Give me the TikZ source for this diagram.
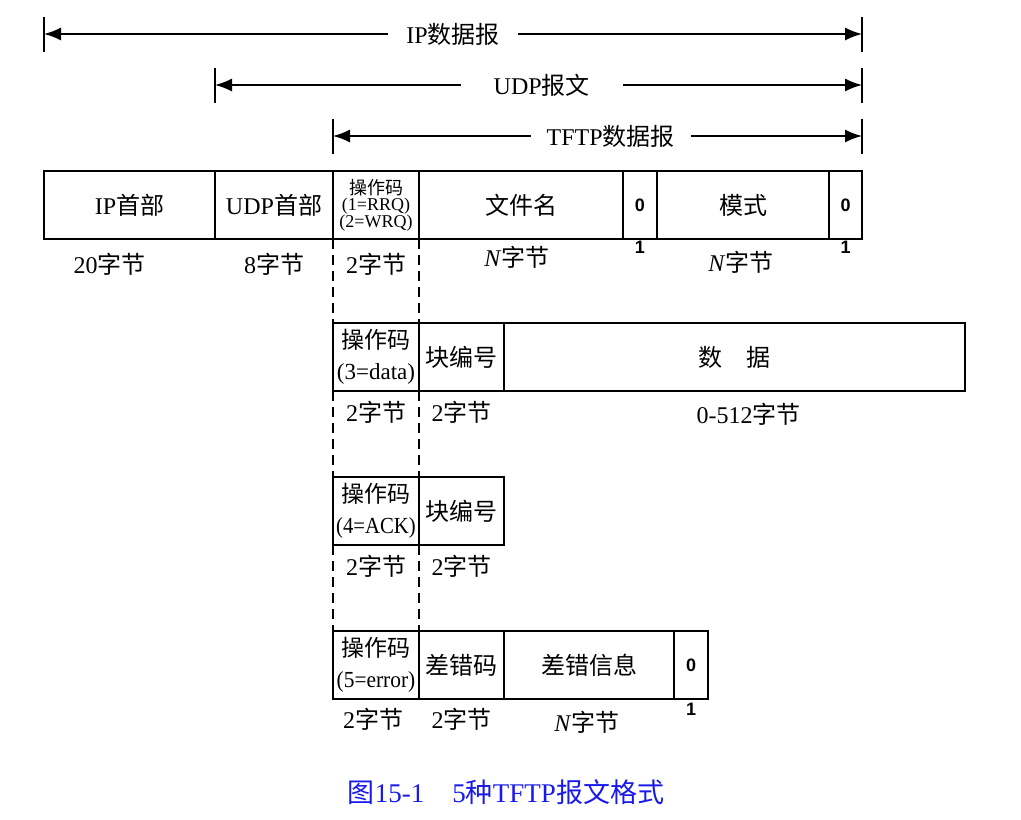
\documentclass[tikz,border=0pt]{standalone}
\usepackage{graphicx}
\usepackage{fontspec}
\setmainfont{Liberation Serif}
\newfontfamily\cjk{Noto Sans CJK SC}
\newfontfamily\digitfont{Liberation Sans}
\newcommand{\zh}[1]{{\cjk #1}}
\newcommand{\narrow}[2]{\scalebox{#1}[1]{#2}}
\usetikzlibrary{arrows.meta,positioning}
\definecolor{capblue}{RGB}{25,25,235}

\begin{document}
\begin{tikzpicture}[x=1pt,y=-1pt,
    field/.style={draw,line width=1.3pt,minimum height=68pt,inner sep=0pt,outer sep=0pt,
      align=center,font=\fontsize{24}{29}\selectfont},
    op/.style={field,minimum width=86pt,font=\fontsize{23}{31}\selectfont},
    smallop/.style={op,font=\fontsize{18}{16.5}\selectfont},
    bit/.style={field,font=\digitfont\bfseries\fontsize{18}{20}\selectfont},
    size/.style={inner sep=0pt,font=\fontsize{24}{26}\selectfont},
    one/.style={inner sep=0pt,font=\digitfont\bfseries\fontsize{18}{20}\selectfont},
    span/.style={{Latex[length=17pt,width=13pt]}-{Latex[length=17pt,width=13pt]},line width=1.6pt},
    tick/.style={line width=1.8pt},
    spanlabel/.style={fill=white,inner ysep=0pt,font=\fontsize{24}{26}\selectfont},
    guide/.style={line width=1.2pt,dash pattern=on 10pt off 6pt},
    caption/.style={text=capblue,font=\fontsize{27}{30}\selectfont}]

  \useasboundingbox (0,0) rectangle (1021,820);

  % read / write request
  \node[field,minimum width=171pt,anchor=north west] (iphdr) at (44,171) {IP\zh{首部}};
  \node[field,minimum width=118pt,right=0pt of iphdr] (udphdr) {UDP\zh{首部}};
  \node[smallop,right=0pt of udphdr] (rwop) {\zh{操作码}\\(1=RRQ)\\(2=WRQ)};
  \node[field,minimum width=204pt,right=0pt of rwop] (fname) {\zh{文件名}};
  \node[bit,minimum width=34pt,right=0pt of fname] (fzero) {0};
  \node[field,minimum width=172pt,right=0pt of fzero] (mode) {\zh{模式}};
  \node[bit,minimum width=33pt,right=0pt of mode] (mzero) {0};

  \node[size,below=14pt of iphdr,xshift=-20pt] (iphdrsz) {20\zh{字节}};
  \node[size,below=14pt of udphdr] (udphdrsz) {8\zh{字节}};
  \node[size,below=14pt of rwop] (rwopsz) {2\zh{字节}};
  \node[size,below=7pt of fname,xshift=-4pt] (fnamesz) {\textit{N}\zh{字节}};
  \node[one,below=2pt of fzero] (fzerosz) {1};
  \node[size,below=12pt of mode,xshift=-2pt] (modesz) {\textit{N}\zh{字节}};
  \node[one,below=2pt of mzero] (mzerosz) {1};

  % data
  \node[op,anchor=north west] (dataop) at (333,323) {\zh{操作码}\\(3=data)};
  \node[field,minimum width=85pt,right=0pt of dataop] (blk) {\zh{块编号}};
  \node[field,minimum width=461pt,right=0pt of blk] (data) {\zh{数\quad 据}};

  \node[size,below=10pt of dataop] (dataopsz) {2\zh{字节}};
  \node[size,below=10pt of blk] (blksz) {2\zh{字节}};
  \node[size,below=12pt of data,xshift=14pt] (datasz) {0-512\zh{字节}};

  % ack
  \node[op,anchor=north west] (ackop) at (333,477) {\zh{操作码}\\\narrow{0.9}{(4=ACK)}};
  \node[field,minimum width=85pt,right=0pt of ackop] (ackblk) {\zh{块编号}};

  \node[size,below=10pt of ackop] (ackopsz) {2\zh{字节}};
  \node[size,below=10pt of ackblk] (ackblksz) {2\zh{字节}};

  % error
  \node[op,anchor=north west] (errop) at (333,631) {\zh{操作码}\\\narrow{0.93}{(5=error)}};
  \node[field,minimum width=85pt,right=0pt of errop] (errcode) {\zh{差错码}};
  \node[field,minimum width=170pt,right=0pt of errcode] (errmsg) {\zh{差错信息}};
  \node[bit,minimum width=34pt,right=0pt of errmsg] (errzero) {0};

  \node[size,below=9pt of errop,xshift=-3pt] (erropsz) {2\zh{字节}};
  \node[size,below=9pt of errcode] (errcodesz) {2\zh{字节}};
  \node[size,below=12pt of errmsg,xshift=-2pt] (errmsgsz) {\textit{N}\zh{字节}};
  \node[one,below=4pt of errzero] (errzerosz) {1};

  % opcode column
  \foreach \a/\b in {rwop/dataop,dataop/ackop,ackop/errop} {
    \draw[guide] (\a.south west) -- (\b.north west);
    \draw[guide] (\a.south east) -- (\b.north east);
  }

  % spans
  \coordinate (ipL) at (44,34);
  \coordinate (ipR) at (862,34);
  \coordinate (udpL) at (215,85);
  \coordinate (udpR) at (862,85);
  \coordinate (tftpL) at (333,136);
  \coordinate (tftpR) at (862,136);

  \draw[span] (ipL) -- node[spanlabel,inner xsep=18pt] {IP\zh{数据报}} (ipR);
  \draw[span] (udpL) -- node[spanlabel,inner xsep=33pt,pos=0.505] {UDP\zh{报文}} (udpR);
  \draw[span] (tftpL) -- node[spanlabel,inner xsep=16pt,pos=0.525] {TFTP\zh{数据报}} (tftpR);

  \foreach \c in {ipL,ipR,udpL,udpR,tftpL,tftpR}
    \draw[tick] ([yshift=17.5pt]\c) -- ([yshift=-17.5pt]\c);

  \node[caption] (cap) at (506,792) {\zh{图}15-1\hspace{28pt}5\zh{种}TFTP\zh{报文格式}};

\end{tikzpicture}
\end{document}
